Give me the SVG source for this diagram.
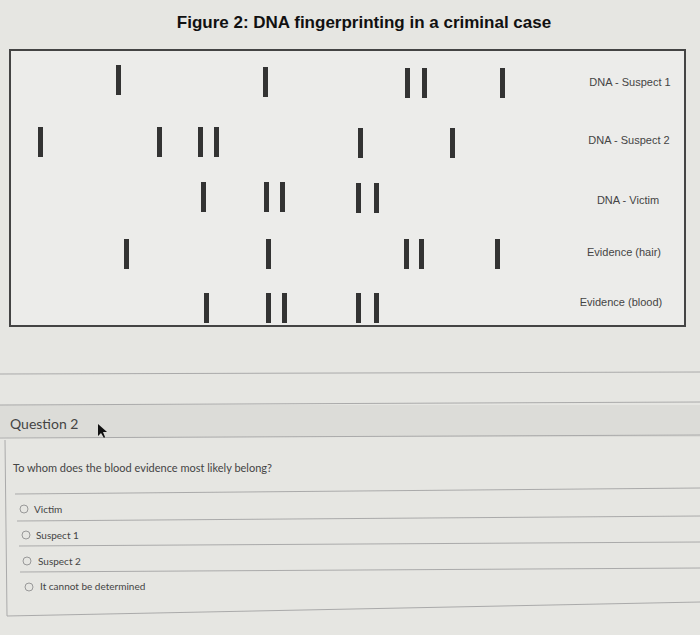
<svg xmlns="http://www.w3.org/2000/svg" width="700" height="635" viewBox="0 0 700 635">
<style>
.b{fill:#333;}
.l{font-family:"Liberation Sans",Arial,sans-serif;font-size:11px;fill:#444;text-anchor:middle}
.q{font-family:Lato,"Liberation Sans",sans-serif;fill:#444}
.ln{stroke:#aaa;stroke-width:1;fill:none}
.r{fill:none;stroke:#999;stroke-width:1}
</style>
<rect width="700" height="635" fill="#e6e6e2"/>
<text x="364" y="28" font-family="Liberation Sans,Arial,sans-serif" font-size="17" font-weight="bold" fill="#111" text-anchor="middle">Figure 2: DNA fingerprinting in a criminal case</text>
<g id="gel">
<rect x="10" y="50" width="675" height="276" fill="#ececea" stroke="#444" stroke-width="2"/>
</g>
<g id="bands">
<g id="row1"><rect class="b" x="116" y="65" width="5" height="30"/><rect class="b" x="263" y="67" width="5" height="30"/><rect class="b" x="405" y="68" width="5" height="30"/><rect class="b" x="422" y="68" width="5" height="30"/><rect class="b" x="500" y="68" width="5" height="30"/></g>
<g id="row2"><rect class="b" x="38" y="127" width="5" height="30"/><rect class="b" x="157" y="127" width="5" height="30"/><rect class="b" x="198" y="127" width="5" height="30"/><rect class="b" x="214" y="127" width="5" height="30"/><rect class="b" x="358" y="128" width="5" height="30"/><rect class="b" x="450" y="128" width="5" height="30"/></g>
<g id="row3"><rect class="b" x="201" y="182" width="5" height="30"/><rect class="b" x="264" y="182" width="5" height="30"/><rect class="b" x="280" y="182" width="5" height="30"/><rect class="b" x="356" y="183" width="5" height="30"/><rect class="b" x="374" y="183" width="5" height="30"/></g>
<g id="row4"><rect class="b" x="124" y="239" width="5" height="30"/><rect class="b" x="266" y="239" width="5" height="30"/><rect class="b" x="404" y="239" width="5" height="30"/><rect class="b" x="419" y="239" width="5" height="30"/><rect class="b" x="495" y="239" width="5" height="30"/></g>
<g id="row5"><rect class="b" x="204" y="293" width="5" height="30"/><rect class="b" x="266" y="293" width="5" height="30"/><rect class="b" x="282" y="293" width="5" height="30"/><rect class="b" x="356" y="293" width="5" height="30"/><rect class="b" x="374" y="293" width="5" height="30"/></g>
</g>
<g id="labels">
<text class="l" x="630" y="86">DNA - Suspect 1</text>
<text class="l" x="629" y="144">DNA - Suspect 2</text>
<text class="l" x="628" y="204">DNA - Victim</text>
<text class="l" x="624" y="256">Evidence (hair)</text>
<text class="l" x="621" y="306">Evidence (blood)</text>
</g>
<g id="question">
<rect x="0" y="405" width="700" height="32" fill="#dcdcd8"/>
<line class="ln" x1="0" y1="374" x2="700" y2="372"/>
<line class="ln" x1="0" y1="405" x2="700" y2="402"/>
<line class="ln" x1="0" y1="438" x2="700" y2="435"/>
<text class="q" x="10" y="429" font-size="14" fill="#333">Question 2</text>
<path d="M98 424 L98 436 L101 433 L104 438 L105 437 L103 432 L107 432 Z" fill="#111"/>
<text class="q" x="13" y="472" font-size="11">To whom does the blood evidence most likely belong?</text>
<line class="ln" x1="15" y1="494" x2="700" y2="488"/>
<line class="ln" x1="17" y1="521" x2="700" y2="516"/>
<line class="ln" x1="19" y1="546" x2="700" y2="542"/>
<line class="ln" x1="20" y1="572" x2="700" y2="568"/>
<line class="ln" x1="7" y1="616" x2="700" y2="602"/>
<line class="ln" x1="5" y1="440" x2="7" y2="616"/>
<circle class="r" cx="24" cy="509" r="4"/><text class="q" x="34" y="513" font-size="10">Victim</text>
<circle class="r" cx="26" cy="535" r="4"/><text class="q" x="36" y="539" font-size="10">Suspect 1</text>
<circle class="r" cx="27" cy="561" r="4"/><text class="q" x="38" y="565" font-size="10">Suspect 2</text>
<circle class="r" cx="29" cy="587" r="4"/><text class="q" x="40" y="590" font-size="10">It cannot be determined</text>
</g>
</svg>
